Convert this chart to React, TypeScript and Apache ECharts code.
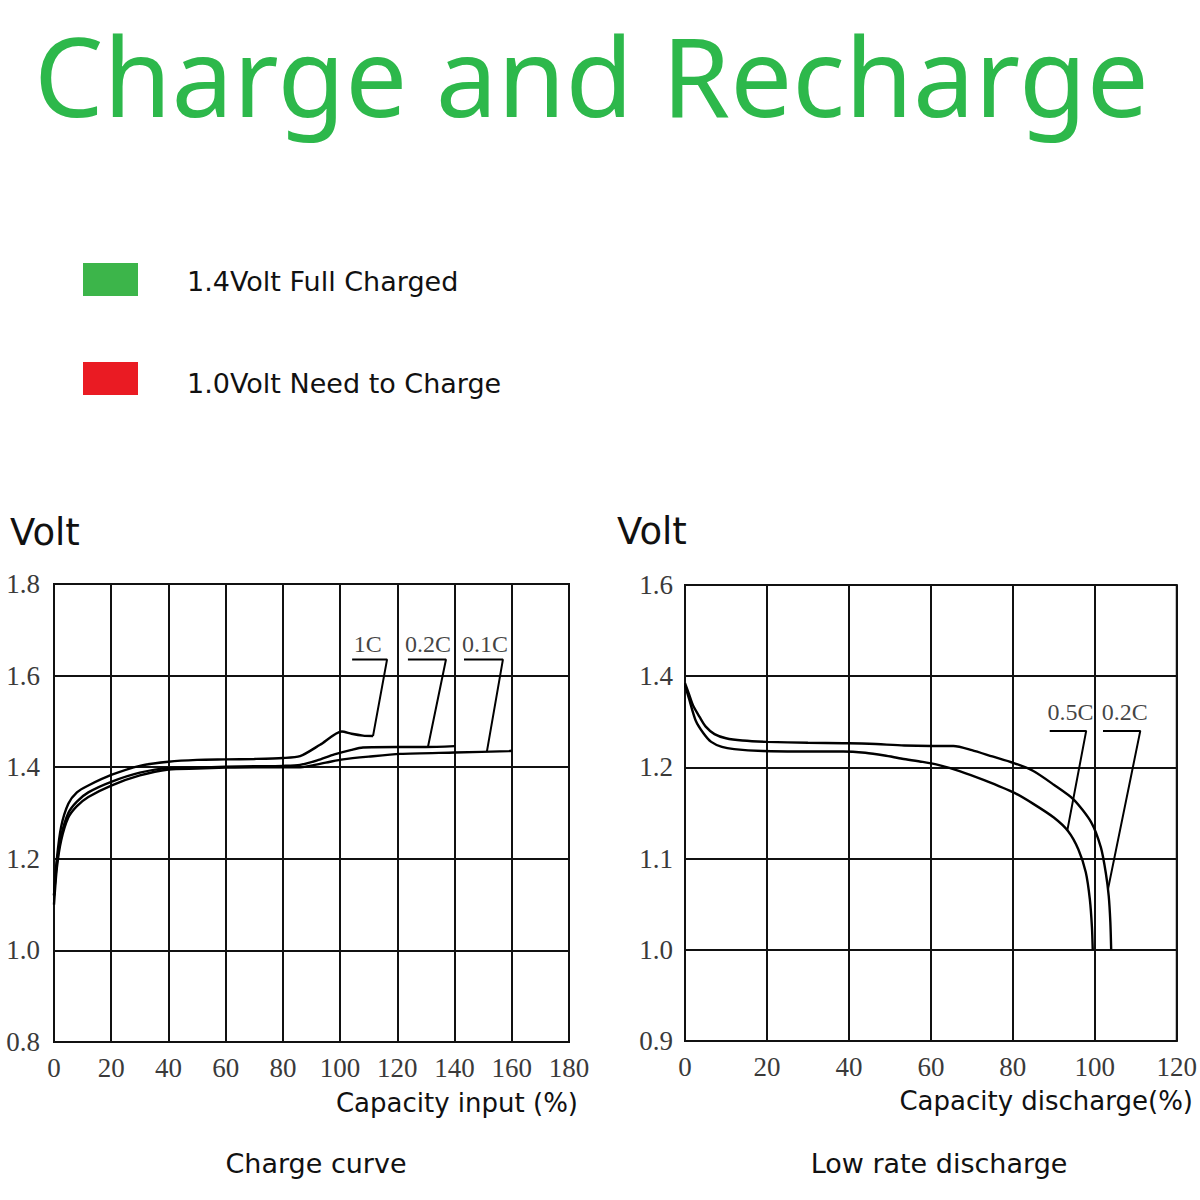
import React, { useEffect, useRef } from "react";
import * as echarts from "echarts";

// ---------- texts ----------
const TITLE = "Charge and Recharge";
const LEGEND_TEXTS = ["1.4Volt Full Charged", "1.0Volt Need to Charge"];
const LEGEND_COLORS = ["#3cb54a", "#ea1b23"];
const CHARGE_X_NAME = "Capacity input (%)";
const DISCHARGE_X_NAME = "Capacity discharge(%)";
const CHARGE_CAPTION = "Charge curve";
const DISCHARGE_CAPTION = "Low rate discharge";
const Y_NAME = "Volt";

// ---------- charge chart (x: capacity input %, y: volt) ----------
const chargeX = { min: 0, max: 180, interval: 20 };
const chargeY = { min: 0.8, max: 1.8, interval: 0.2 };

const charge1C: [number, number][] = [
  [0, 1.12], [1, 1.2], [2.5, 1.27], [5, 1.32], [8, 1.345], [12, 1.36], [20, 1.383],
  [30, 1.403], [40, 1.412], [50, 1.416], [60, 1.417], [70, 1.418], [80, 1.42],
  [86, 1.424], [93, 1.449], [100.6, 1.478], [104, 1.473], [108, 1.469], [111.5, 1.468],
];
const charge02C: [number, number][] = [
  [0, 1.12], [1, 1.19], [2.5, 1.25], [5, 1.3], [8, 1.325], [12, 1.345], [20, 1.368],
  [30, 1.388], [40, 1.398], [50, 1.399], [60, 1.401], [70, 1.402], [80, 1.403],
  [86, 1.405], [92, 1.415], [98, 1.428], [104, 1.438], [108, 1.443], [120, 1.444],
  [130, 1.444], [140, 1.446],
];
const charge01C: [number, number][] = [
  [0, 1.1], [1, 1.18], [2.5, 1.24], [5, 1.29], [8, 1.315], [12, 1.335], [20, 1.36],
  [30, 1.382], [40, 1.395], [50, 1.397], [60, 1.399], [70, 1.4], [80, 1.4], [86, 1.4],
  [95, 1.41], [101, 1.417], [110, 1.423], [121, 1.429], [140, 1.432], [159, 1.435],
  [160, 1.436],
];

// annotation labels and leader lines (data coordinates)
const chargeNoteLabels = ["1C", "0.2C", "0.1C"];
const chargeNoteTextPos: [number, number][] = [[109.7, 1.669], [130.7, 1.669], [150.6, 1.669]];
const chargeNoteLeaders: [number, number][][] = [
  [[104.2, 1.635], [116.4, 1.635], [111.5, 1.468]],
  [[123.7, 1.635], [137, 1.635], [130.7, 1.444]],
  [[143.3, 1.635], [156.9, 1.635], [151.3, 1.434]],
];

// ---------- discharge chart (x: capacity discharge %, y: volt, uneven labels) ----------
const dischargeX = { min: 0, max: 120, interval: 20 };
const dischargeYLabels = [0.9, 1.0, 1.1, 1.2, 1.4, 1.6];

const discharge05C: [number, number][] = [
  [0, 1.38], [1, 1.35], [2.6, 1.303], [4.5, 1.275], [6.4, 1.256], [9, 1.245], [12, 1.24],
  [19, 1.236], [30, 1.235], [38.6, 1.235], [44, 1.232], [48.7, 1.226], [53, 1.219],
  [58, 1.212], [62, 1.205], [67, 1.196], [73, 1.186], [80.4, 1.172], [85, 1.16],
  [90, 1.145], [93.5, 1.13], [96, 1.11], [97.8, 1.085], [98.8, 1.055], [99.3, 1.025],
  [99.5, 1.0],
];
const discharge02C: [number, number][] = [
  [0, 1.385], [1, 1.36], [2, 1.335], [3.6, 1.31], [5, 1.29], [7.2, 1.273], [10, 1.264],
  [14, 1.259], [20, 1.256], [30, 1.254], [38.6, 1.253], [45, 1.252], [53.5, 1.248],
  [60, 1.247], [65.5, 1.247], [70, 1.238], [75, 1.224], [80.4, 1.209], [85, 1.196],
  [90, 1.181], [94.8, 1.165], [99.1, 1.14], [101.5, 1.112], [102.7, 1.084],
  [103.4, 1.059], [103.8, 1.03], [104, 1.0],
];

const dischargeNoteLabels = ["0.5C", "0.2C"];
const dischargeNoteTextPos: [number, number][] = [[94.1, 1.322], [107.3, 1.322]];
const dischargeNoteLeaders: [number, number][][] = [
  [[89, 1.28], [97.9, 1.28], [93.3, 1.131]],
  [[102, 1.28], [111.1, 1.28], [103.2, 1.066]],
];

// map a voltage onto the evenly spaced (but unevenly labelled) discharge axis
function voltToPos(v: number): number {
  const L = dischargeYLabels;
  if (v <= L[0]) return 0;
  for (let i = 0; i < L.length - 1; i++) {
    if (v <= L[i + 1]) return i + (v - L[i]) / (L[i + 1] - L[i]);
  }
  return L.length - 1;
}
const toDischarge = (pts: [number, number][]) => pts.map(([x, v]) => [x, voltToPos(v)]);

export default function App() {
  const ref = useRef<HTMLDivElement>(null);

  useEffect(() => {
    document.body.style.margin = "0";
    if (!ref.current) return;
    const chart = echarts.init(ref.current, undefined, { renderer: "svg" });

    const ink = "#111";
    const tickFont = { fontFamily: "Liberation Serif", fontSize: 27, color: "#3a3a3a" };
    const gridLine = { show: true, lineStyle: { color: ink, width: 2 } };
    const axisLine = { show: true, lineStyle: { color: ink, width: 2 } };
    const labelFont = { fontFamily: "DejaVu Sans", fill: "#111" };

    const curve = (name: string, data: number[][], idx: number) => ({
      name,
      type: "line",
      xAxisIndex: idx,
      yAxisIndex: idx,
      data,
      smooth: 0.25,
      showSymbol: false,
      silent: true,
      lineStyle: { color: "#000", width: 2.4 },
      z: 4,
    });
    const leader = (data: number[][], idx: number) => ({
      type: "line",
      xAxisIndex: idx,
      yAxisIndex: idx,
      data,
      smooth: false,
      showSymbol: false,
      silent: true,
      lineStyle: { color: "#000", width: 2 },
      z: 5,
    });
    const noteText = (labels: string[], pos: number[][], idx: number) => ({
      type: "scatter",
      xAxisIndex: idx,
      yAxisIndex: idx,
      symbolSize: 0,
      silent: true,
      data: labels.map((l, i) => ({ name: l, value: pos[i] })),
      label: {
        show: true,
        position: "inside",
        formatter: "{b}",
        fontFamily: "Liberation Serif",
        fontSize: 24,
        color: "#111",
      },
      z: 6,
    });

    const series: any[] = [
      curve("1C", charge1C, 0),
      curve("0.2C", charge02C, 0),
      curve("0.1C", charge01C, 0),
      ...chargeNoteLeaders.map((l) => leader(l, 0)),
      noteText(chargeNoteLabels, chargeNoteTextPos, 0),
      curve("0.5C", toDischarge(discharge05C), 1),
      curve("0.2C ", toDischarge(discharge02C), 1),
      ...dischargeNoteLeaders.map((l) => leader(toDischarge(l), 1)),
      noteText(dischargeNoteLabels, dischargeNoteTextPos.map(([x, v]) => [x, voltToPos(v)]), 1),
    ];

    chart.setOption({
      animation: false,
      backgroundColor: "#fff",
      grid: [
        { left: 54, top: 584, width: 515, height: 458, show: true, borderColor: ink, borderWidth: 2 },
        { left: 685, top: 585, width: 500, height: 456, show: true, borderColor: ink, borderWidth: 2 },
      ],
      xAxis: [
        {
          type: "value", gridIndex: 0, ...chargeX,
          splitLine: gridLine, axisLine, axisTick: { show: false },
          axisLabel: { ...tickFont, margin: 12 },
        },
        {
          type: "value", gridIndex: 1, ...dischargeX,
          splitLine: gridLine, axisLine, axisTick: { show: false },
          axisLabel: { ...tickFont, margin: 12 },
        },
      ],
      yAxis: [
        {
          type: "value", gridIndex: 0, ...chargeY,
          splitLine: gridLine, axisLine, axisTick: { show: false },
          axisLabel: { ...tickFont, margin: 14, formatter: (v: number) => v.toFixed(1) },
        },
        {
          type: "value", gridIndex: 1, min: 0, max: dischargeYLabels.length - 1, interval: 1,
          splitLine: gridLine, axisLine, axisTick: { show: false },
          axisLabel: {
            ...tickFont,
            margin: 12,
            formatter: (v: number) => {
              const l = dischargeYLabels[Math.round(v)];
              return l === undefined ? "" : l.toFixed(1);
            },
          },
        },
      ],
      series,
      graphic: [
        {
          type: "text", x: 34, y: 74,
          style: {
            text: TITLE, fontFamily: "Noto Sans", fontSize: 110, fill: "#2db84b",
            textVerticalAlign: "middle",
          },
        },
        { type: "rect", shape: { x: 83, y: 263, width: 55, height: 33 }, style: { fill: LEGEND_COLORS[0] } },
        { type: "rect", shape: { x: 83, y: 362, width: 55, height: 33 }, style: { fill: LEGEND_COLORS[1] } },
        {
          type: "text", x: 187, y: 281,
          style: { ...labelFont, text: LEGEND_TEXTS[0], fontSize: 27, textVerticalAlign: "middle" },
        },
        {
          type: "text", x: 187, y: 383,
          style: { ...labelFont, text: LEGEND_TEXTS[1], fontSize: 27, textVerticalAlign: "middle" },
        },
        {
          type: "text", x: 10, y: 532,
          style: { ...labelFont, text: Y_NAME, fontSize: 37, textVerticalAlign: "middle" },
        },
        {
          type: "text", x: 617, y: 531,
          style: { ...labelFont, text: Y_NAME, fontSize: 37, textVerticalAlign: "middle" },
        },
        {
          type: "text", x: 578, y: 1103,
          style: { ...labelFont, text: CHARGE_X_NAME, fontSize: 26, textAlign: "right", textVerticalAlign: "middle" },
        },
        {
          type: "text", x: 1193, y: 1101,
          style: { ...labelFont, text: DISCHARGE_X_NAME, fontSize: 26, textAlign: "right", textVerticalAlign: "middle" },
        },
        {
          type: "text", x: 316, y: 1163,
          style: { ...labelFont, text: CHARGE_CAPTION, fontSize: 27, textAlign: "center", textVerticalAlign: "middle" },
        },
        {
          type: "text", x: 939, y: 1163,
          style: { ...labelFont, text: DISCHARGE_CAPTION, fontSize: 27, textAlign: "center", textVerticalAlign: "middle" },
        },
      ],
    });

    return () => chart.dispose();
  }, []);

  return <div ref={ref} style={{ width: 1200, height: 1200 }} />;
}
